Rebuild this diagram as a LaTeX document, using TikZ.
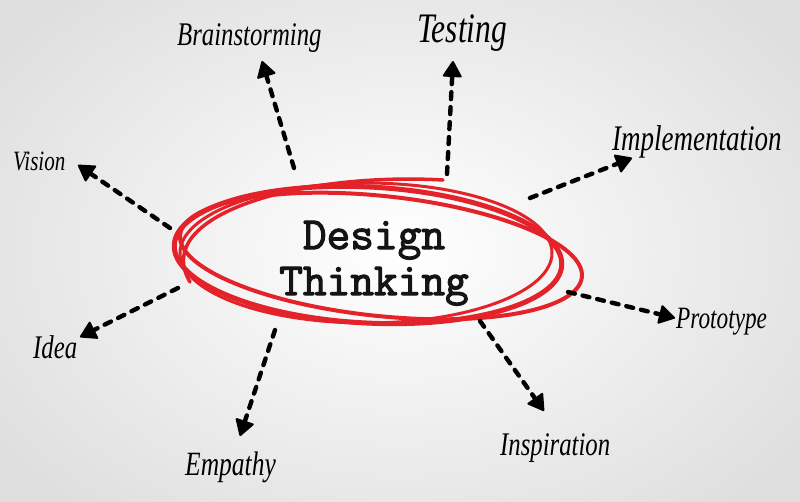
\documentclass[tikz,border=0pt]{standalone}
\usepackage{fontspec}
\usetikzlibrary{arrows.meta}
\newfontfamily\handfont[FakeStretch=0.75]{Liberation Serif}
\newfontfamily\typefont[FakeBold=2.5]{Latin Modern Mono}
\definecolor{mred}{HTML}{E42229}
\definecolor{bgedge}{HTML}{DEDEDE}
\tikzset{
  lbl/.style={font=\handfont\itshape\fontsize{#1}{#1}\selectfont, anchor=base west, inner sep=0pt, text=black},
  lbl/.default=31,
  ctext/.style={font=\typefont\fontsize{46}{46}\selectfont, align=center, anchor=base, inner sep=0pt, text=black!92},
  arr/.style={line width=4.4pt, dash pattern=on 7pt off 8pt, line cap=round,
    -{Triangle[length=17pt,width=20pt,round,line width=2pt]}},
  loop/.style={draw=mred, line width=#1},
}
\begin{document}
\begin{tikzpicture}[x=1pt,y=-1pt]
\useasboundingbox (0,0) rectangle (800,501);
\shade[inner color=white, outer color=bgedge] (-100,-100) rectangle (900,601);
% red loops
\draw[loop=5pt] (368,255) ellipse [x radius=194pt, y radius=68pt, rotate=-3];
\draw[loop=4pt] (381,256) ellipse [x radius=202pt, y radius=60pt, rotate=-6];
\draw[loop=3pt] (366,253) ellipse [x radius=186pt, y radius=70pt];
\draw[loop=3.5pt, line cap=round] (190,282) .. controls (150,215) and (300,172) .. (443,180);
% center text
\node[ctext] (dt) at (374,295) {Design\\Thinking};
% labels
\node[lbl=33] (bs) at (177,45) {Brainstorming};
\node[lbl=42] (te) at (417,42) {Testing};
\node[lbl=36] (im) at (612,150) {Implementation};
\node[lbl=28] (vi) at (13,170) {Vision};
\node[lbl=33] (id) at (33,358) {Idea};
\node[lbl=31] (pr) at (676,328) {Prototype};
\node[lbl=34] (em) at (185,475) {Empathy};
\node[lbl=33] (in) at (500,455) {Inspiration};
% connector ends
\coordinate (bs0) at (294,168); \coordinate (bs1) at (262,61);
\coordinate (te0) at (447,174); \coordinate (te1) at (453,61);
\coordinate (im0) at (530,198); \coordinate (im1) at (632,158);
\coordinate (vi0) at (170,228); \coordinate (vi1) at (78,165);
\coordinate (id0) at (178,288); \coordinate (id1) at (80,337);
\coordinate (em0) at (275,330); \coordinate (em1) at (240,436);
\coordinate (pr0) at (568,292); \coordinate (pr1) at (675,318);
\coordinate (in0) at (480,321); \coordinate (in1) at (544,411);
\foreach \k in {bs,te,im,vi,id,em,pr,in}
  \draw[arr] (\k0) -- (\k1);
\end{tikzpicture}
\end{document}
